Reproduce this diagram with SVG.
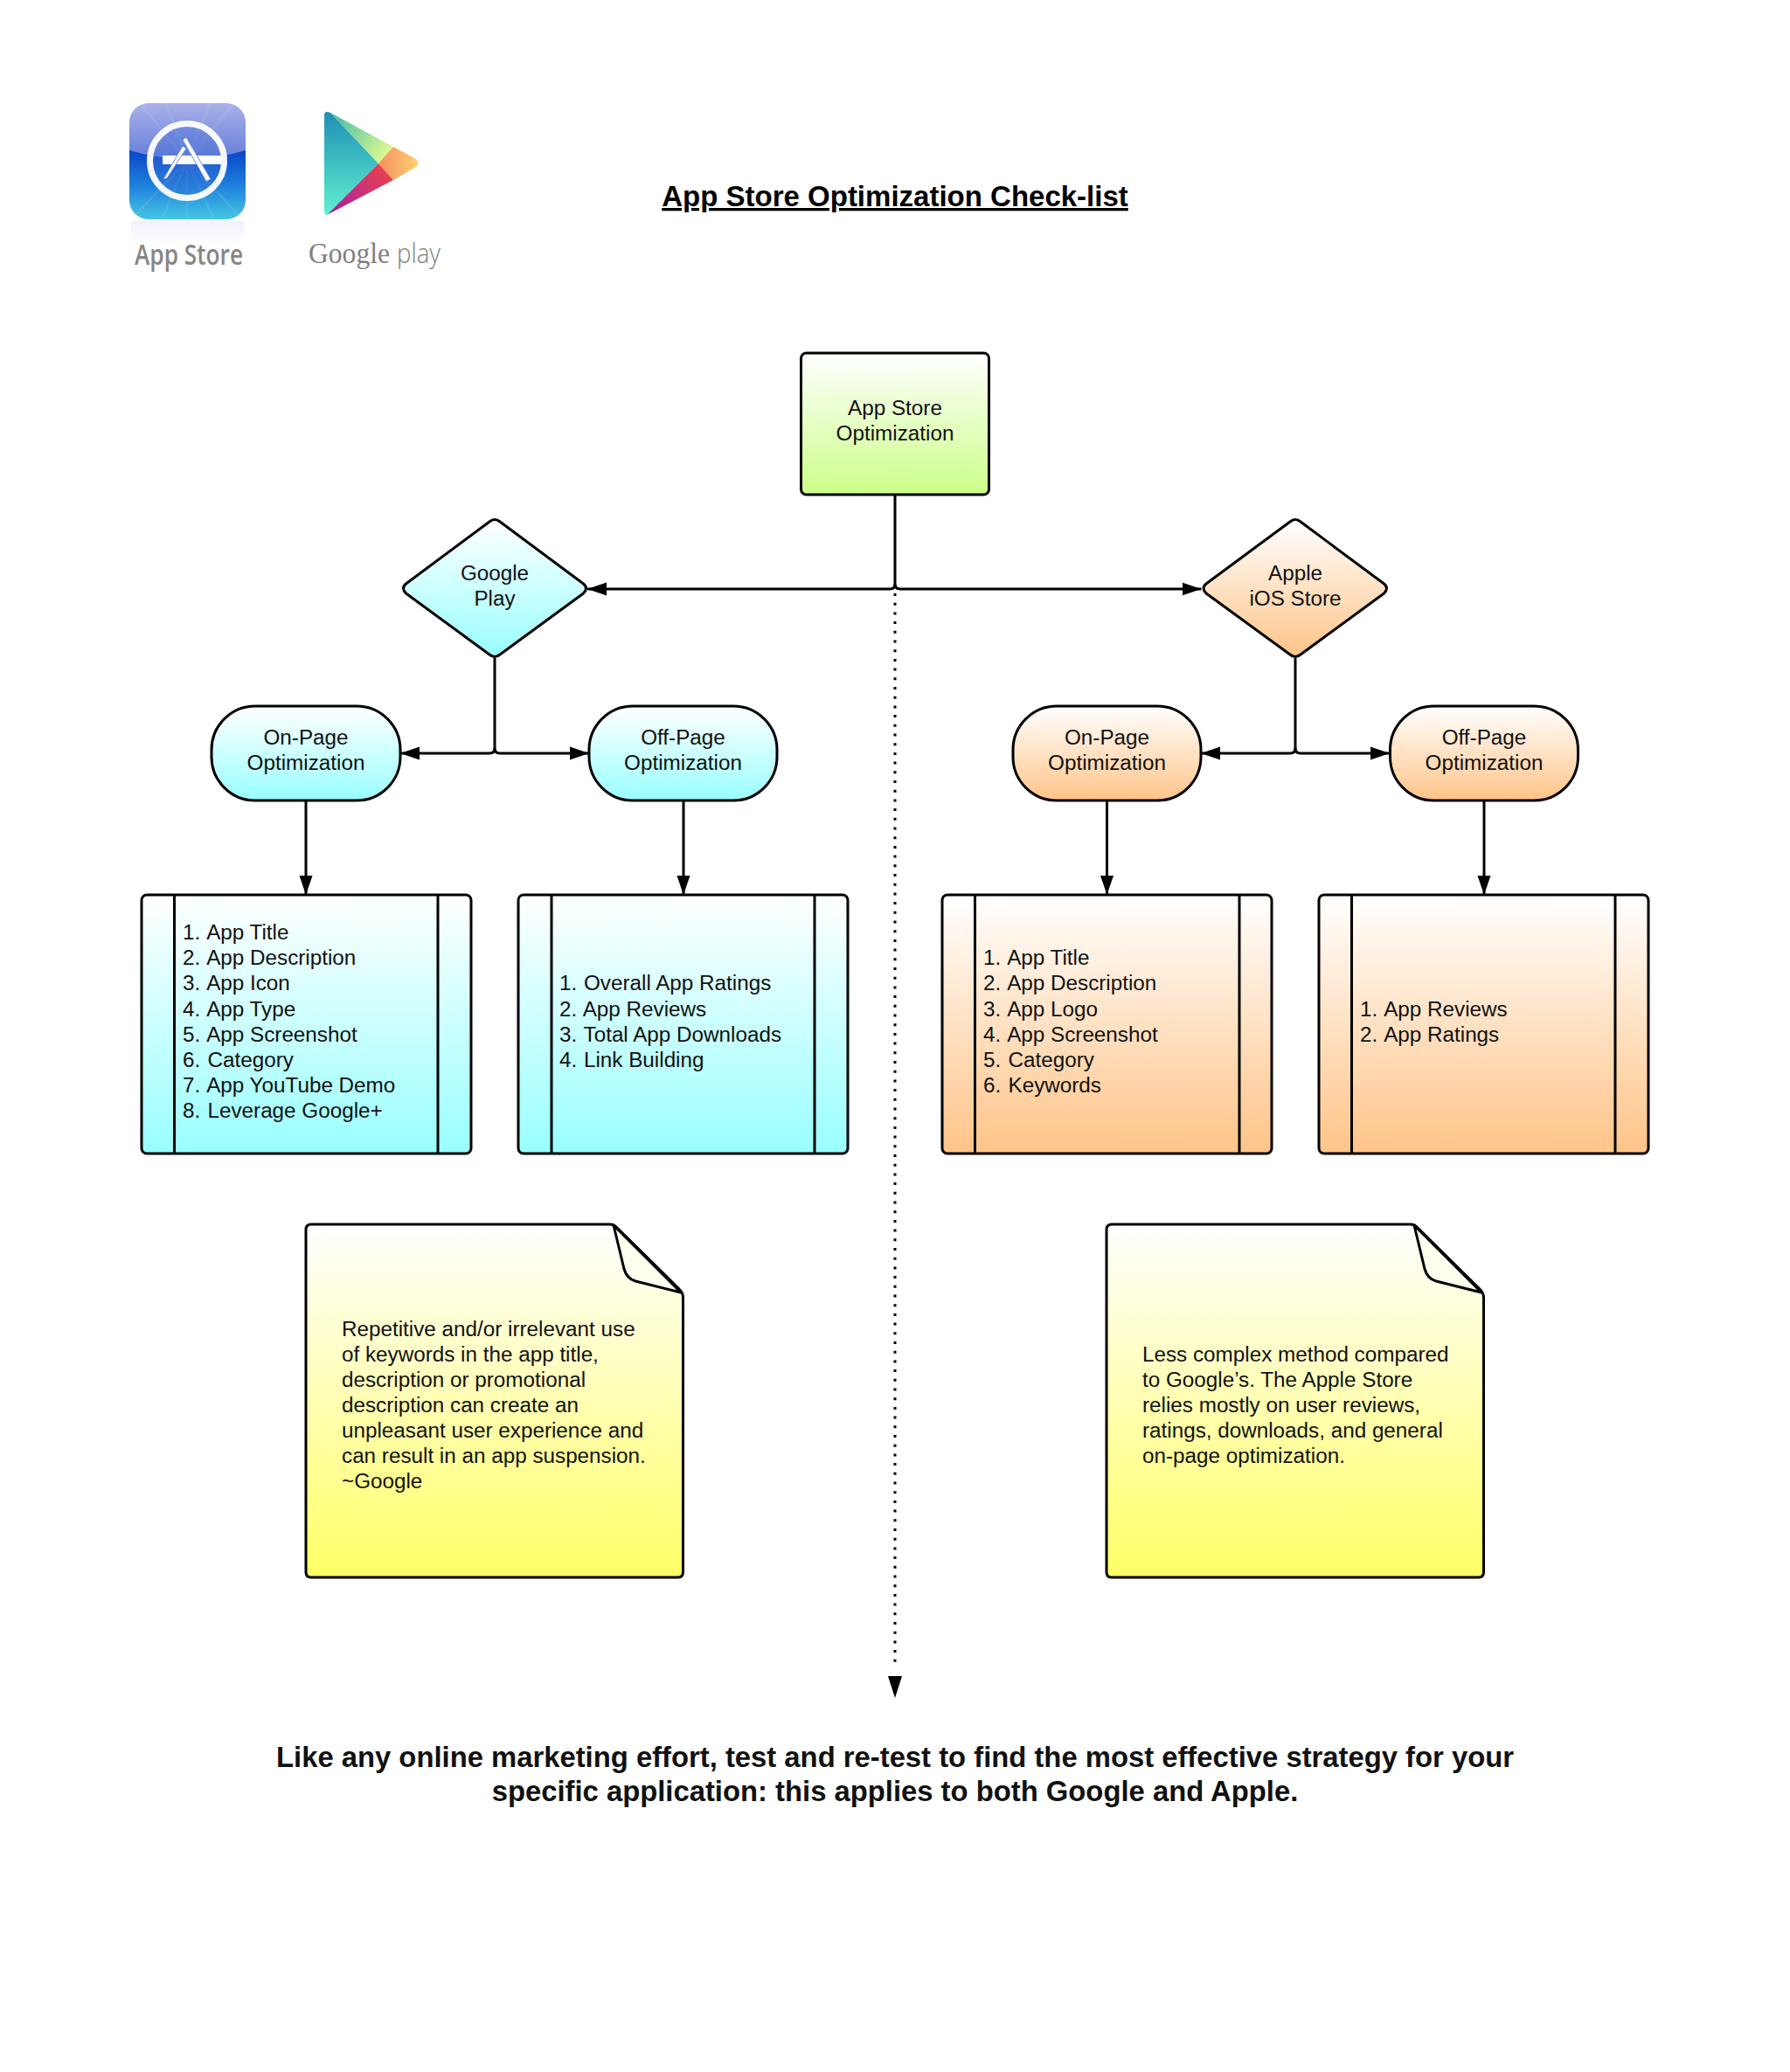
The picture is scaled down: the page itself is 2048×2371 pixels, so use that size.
<svg xmlns="http://www.w3.org/2000/svg" width="2048" height="2371" viewBox="0 0 2048 2371">
<defs>
<linearGradient id="gc" x1="0" y1="0" x2="0" y2="1"><stop offset="0" stop-color="#fff"/><stop offset="1" stop-color="#99ffff"/></linearGradient>
<linearGradient id="go" x1="0" y1="0" x2="0" y2="1"><stop offset="0" stop-color="#fff"/><stop offset="1" stop-color="#ffc488"/></linearGradient>
<linearGradient id="gg" x1="0" y1="0" x2="0" y2="1"><stop offset="0" stop-color="#fff"/><stop offset="1" stop-color="#ccff88"/></linearGradient>
<linearGradient id="gy" x1="0" y1="0" x2="0" y2="1"><stop offset="0" stop-color="#fff"/><stop offset="1" stop-color="#ffff66"/></linearGradient>
<linearGradient id="asTop" x1="0" y1="0" x2="0" y2="1"><stop offset="0" stop-color="#a9b1e8"/><stop offset="1" stop-color="#5f78d8"/></linearGradient>
<linearGradient id="asBot" x1="0" y1="0" x2="0" y2="1"><stop offset="0" stop-color="#0a45c8"/><stop offset="0.5" stop-color="#1d7fdc"/><stop offset="1" stop-color="#45c6e2"/></linearGradient>
<linearGradient id="asRef" x1="0" y1="0" x2="0" y2="1"><stop offset="0" stop-color="#eef2fa"/><stop offset="1" stop-color="#fff"/></linearGradient>
<linearGradient id="gpL" x1="0" y1="0" x2="0" y2="1"><stop offset="0" stop-color="#1f8fb5"/><stop offset="1" stop-color="#5ff0d0"/></linearGradient>
<linearGradient id="gpT" x1="0" y1="0" x2="1" y2="0.6"><stop offset="0" stop-color="#3fb8a8"/><stop offset="1" stop-color="#d8f890"/></linearGradient>
<linearGradient id="gpB" x1="0" y1="1" x2="1" y2="0.3"><stop offset="0" stop-color="#a020a8"/><stop offset="1" stop-color="#e84050"/></linearGradient>
<linearGradient id="gpR" x1="0" y1="0" x2="1" y2="0"><stop offset="0" stop-color="#f89060"/><stop offset="1" stop-color="#fcd070"/></linearGradient>
<marker id="arr" markerUnits="userSpaceOnUse" markerWidth="24" markerHeight="18" refX="22" refY="8" orient="auto"><path d="M0 0.500L22 8L0 15.500Z" fill="#000"/></marker>
<marker id="arrLong" markerUnits="userSpaceOnUse" markerWidth="27" markerHeight="18" refX="25" refY="8" orient="auto"><path d="M0 0L25 8L0 16Z" fill="#000"/></marker>
<clipPath id="asClip"><rect x="148" y="118" width="133" height="133" rx="22"/></clipPath>
</defs>
<style>
.s{stroke:#000;stroke-width:3;stroke-linejoin:round}
.n{font-family:"Liberation Sans",Arial,sans-serif;font-size:24.25px;fill:#111}
.m{text-anchor:middle}
.c{fill:none;stroke:#000;stroke-width:3}
.bar{fill:none;stroke:#000;stroke-width:3}
</style>
<rect width="2048" height="2371" fill="#fff"/>

<g id="app-store-logo">
<rect x="150" y="253" width="129" height="26" fill="url(#asRef)"/>
<g clip-path="url(#asClip)">
<rect x="148" y="118" width="133" height="70" fill="url(#asTop)"/>
<path d="M148 172Q214 192 281 172V251H148Z" fill="url(#asBot)"/>
<path d="M214 184L160 118M214 184L190 118M214 184L240 118M214 184L268 118M214 184L150 251M214 184L185 251M214 184L214 251M214 184L245 251M214 184L278 251" stroke="#fff" stroke-width="3" opacity=".08" fill="none"/>
</g>
<circle cx="214" cy="184" r="42.500" fill="#3f6fd8" fill-opacity=".35" stroke="#fff" stroke-width="7" stroke-opacity=".95"/>
<path d="M186 178H253V188H186Z" fill="#fff"/>
<path d="M213 157L241 205L236 207.500L209 160Z" fill="#fff" stroke="#6f8fe0" stroke-width="1"/>
<path d="M209 167L213 170L191 204L187 205Z" fill="#fff" stroke="#6f8fe0" stroke-width="1"/>
<text x="154" y="303" font-family="Open Sans,sans-serif" font-size="33" font-weight="600" fill="#868686" textLength="124" lengthAdjust="spacingAndGlyphs">App Store</text>
</g>

<g id="google-play-logo">
<path d="M371 132Q371 126 378 129L433 187L374 246Q371 246 371 240Z" fill="url(#gpL)"/>
<path d="M378 129L450 168L433 187Z" fill="url(#gpT)"/>
<path d="M374 246L433 187L450 206Z" fill="url(#gpB)"/>
<path d="M450 168L476 182Q481 187 476 191L450 206L433 187Z" fill="url(#gpR)"/>
<text x="353" y="301" font-family="Liberation Serif,serif" font-size="33.500" fill="#808080" textLength="93" lengthAdjust="spacingAndGlyphs">Google</text>
<text x="454" y="301" font-family="Open Sans,sans-serif" font-size="32" font-weight="300" fill="#808080" textLength="50" lengthAdjust="spacingAndGlyphs">play</text>
</g>

<text id="title" x="1024" y="236" text-anchor="middle" font-family="Liberation Sans,Arial,sans-serif" font-size="33" font-weight="700" text-decoration="underline" fill="#000">App Store Optimization Check-list</text>

<g id="connectors">
<path class="c" d="M1024 566V668Q1024 674 1018 674H672" marker-end="url(#arr)"/>
<path class="c" d="M1024 668Q1024 674 1030 674H1374.500" marker-end="url(#arr)"/>
<path class="c" stroke-dasharray="3 7.700" d="M1024 679V1908"/>
<path d="M1024 1917V1943" fill="none" marker-end="url(#arrLong)"/>
<path class="c" d="M566 753V856Q566 862 560 862H458" marker-end="url(#arr)"/>
<path class="c" d="M566 856Q566 862 572 862H674" marker-end="url(#arr)"/>
<path class="c" d="M1482 753V856Q1482 862 1476 862H1374" marker-end="url(#arr)"/>
<path class="c" d="M1482 856Q1482 862 1488 862H1590" marker-end="url(#arr)"/>
<path class="c" d="M350 916V1024" marker-end="url(#arr)"/>
<path class="c" d="M782 916V1024" marker-end="url(#arr)"/>
<path class="c" d="M1266.500 916V1024" marker-end="url(#arr)"/>
<path class="c" d="M1698 916V1024" marker-end="url(#arr)"/>
</g>

<g id="root">
<rect class="s" x="916.500" y="404" width="215" height="162" rx="6" fill="url(#gg)"/>
<text class="n m" x="1024" y="475">App Store</text>
<text class="n m" x="1024" y="504">Optimization</text>
</g>

<g id="google-play">
<path class="s" d="M560 597Q566 592 572 597L667.500 668Q673.500 673 667.500 679L572 749Q566 754 560 749L464.500 679Q458.500 673 464.500 668Z" fill="url(#gc)"/>
<text class="n m" x="566" y="664">Google</text>
<text class="n m" x="566" y="693">Play</text>
</g>
<g id="apple-ios">
<path class="s" d="M1476 597Q1482 592 1488 597L1583.500 668Q1589.500 673 1583.500 679L1488 749Q1482 754 1476 749L1380 679Q1374 673 1380 668Z" fill="url(#go)"/>
<text class="n m" x="1482" y="664">Apple</text>
<text class="n m" x="1482" y="693">iOS Store</text>
</g>

<g id="gp-onpage">
<rect class="s" x="242" y="808" width="216" height="108" rx="50" fill="url(#gc)"/>
<text class="n m" x="350" y="852">On-Page</text>
<text class="n m" x="350" y="881">Optimization</text>
</g>
<g id="gp-offpage">
<rect class="s" x="674" y="808" width="215" height="108" rx="50" fill="url(#gc)"/>
<text class="n m" x="781.500" y="852">Off-Page</text>
<text class="n m" x="781.500" y="881">Optimization</text>
</g>
<g id="ios-onpage">
<rect class="s" x="1159" y="808" width="215" height="108" rx="50" fill="url(#go)"/>
<text class="n m" x="1266.500" y="852">On-Page</text>
<text class="n m" x="1266.500" y="881">Optimization</text>
</g>
<g id="ios-offpage">
<rect class="s" x="1590.500" y="808" width="215" height="108" rx="50" fill="url(#go)"/>
<text class="n m" x="1698" y="852">Off-Page</text>
<text class="n m" x="1698" y="881">Optimization</text>
</g>

<g id="gp-onpage-list">
<rect class="s" x="162" y="1024" width="377" height="296" rx="6" fill="url(#gc)"/>
<path class="bar" d="M199.500 1024V1320M501 1024V1320"/>
<text class="n" x="209" y="1075">1. <tspan dx="1.5">App Title</tspan></text>
<text class="n" x="209" y="1104.200">2. <tspan dx="1.5">App Description</tspan></text>
<text class="n" x="209" y="1133.300">3. <tspan dx="1.5">App Icon</tspan></text>
<text class="n" x="209" y="1162.500">4. <tspan dx="1.5">App Type</tspan></text>
<text class="n" x="209" y="1191.600">5. <tspan dx="1.5">App Screenshot</tspan></text>
<text class="n" x="209" y="1220.800">6. <tspan dx="1.5">Category</tspan></text>
<text class="n" x="209" y="1249.900">7. <tspan dx="1.5">App YouTube Demo</tspan></text>
<text class="n" x="209" y="1279">8. <tspan dx="1.5">Leverage Google+</tspan></text>
</g>
<g id="gp-offpage-list">
<rect class="s" x="593" y="1024" width="377" height="296" rx="6" fill="url(#gc)"/>
<path class="bar" d="M631 1024V1320M932 1024V1320"/>
<text class="n" x="640" y="1133.300">1. <tspan dx="1">Overall App Ratings</tspan></text>
<text class="n" x="640" y="1162.500">2. <tspan dx="1">App Reviews</tspan></text>
<text class="n" x="640" y="1191.600">3. <tspan dx="1">Total App Downloads</tspan></text>
<text class="n" x="640" y="1220.800">4. <tspan dx="1">Link Building</tspan></text>
</g>
<g id="ios-onpage-list">
<rect class="s" x="1078" y="1024" width="377" height="296" rx="6" fill="url(#go)"/>
<path class="bar" d="M1115.500 1024V1320M1418 1024V1320"/>
<text class="n" x="1125" y="1104.200">1. <tspan dx="1.5">App Title</tspan></text>
<text class="n" x="1125" y="1133.300">2. <tspan dx="1.5">App Description</tspan></text>
<text class="n" x="1125" y="1162.500">3. <tspan dx="1.5">App Logo</tspan></text>
<text class="n" x="1125" y="1191.600">4. <tspan dx="1.5">App Screenshot</tspan></text>
<text class="n" x="1125" y="1220.800">5. <tspan dx="1.5">Category</tspan></text>
<text class="n" x="1125" y="1249.900">6. <tspan dx="1.5">Keywords</tspan></text>
</g>
<g id="ios-offpage-list">
<rect class="s" x="1509" y="1024" width="377" height="296" rx="6" fill="url(#go)"/>
<path class="bar" d="M1546.500 1024V1320M1848 1024V1320"/>
<text class="n" x="1556" y="1162.500">1. <tspan dx="1.5">App Reviews</tspan></text>
<text class="n" x="1556" y="1191.600">2. <tspan dx="1.5">App Ratings</tspan></text>
</g>

<g id="gp-note">
<path class="s" d="M356 1401H698Q702 1401 705 1404L777 1475Q781.500 1479 781.500 1485V1799Q781.500 1805 775.500 1805H356Q350 1805 350 1799V1407Q350 1401 356 1401Z" fill="url(#gy)"/>
<path class="s" fill="#fffff0" d="M702 1402L714 1452Q717 1463 727 1466L779 1479Z"/>
<text class="n" x="391" y="1529">Repetitive and/or irrelevant use</text>
<text class="n" x="391" y="1558">of keywords in the app title,</text>
<text class="n" x="391" y="1587">description or promotional</text>
<text class="n" x="391" y="1616">description can create an</text>
<text class="n" x="391" y="1645">unpleasant user experience and</text>
<text class="n" x="391" y="1674">can result in an app suspension.</text>
<text class="n" x="391" y="1703">~Google</text>
</g>
<g id="ios-note">
<path class="s" d="M1272 1401H1614Q1618 1401 1621 1404L1693 1475Q1697.500 1479 1697.500 1485V1799Q1697.500 1805 1691.500 1805H1272Q1266 1805 1266 1799V1407Q1266 1401 1272 1401Z" fill="url(#gy)"/>
<path class="s" fill="#fffff0" d="M1618 1402L1630 1452Q1633 1463 1643 1466L1695 1479Z"/>
<text class="n" x="1307" y="1558">Less complex method compared</text>
<text class="n" x="1307" y="1587">to Google’s. The Apple Store</text>
<text class="n" x="1307" y="1616">relies mostly on user reviews,</text>
<text class="n" x="1307" y="1645">ratings, downloads, and general</text>
<text class="n" x="1307" y="1674">on-page optimization.</text>
</g>

<g id="conclusion" font-family="Liberation Sans,Arial,sans-serif" font-size="32.800" font-weight="700" text-anchor="middle" fill="#111">
<text x="1024" y="2022">Like any online marketing effort, test and re-test to find the most effective strategy for your</text>
<text x="1024" y="2061">specific application: this applies to both Google and Apple.</text>
</g>
</svg>
